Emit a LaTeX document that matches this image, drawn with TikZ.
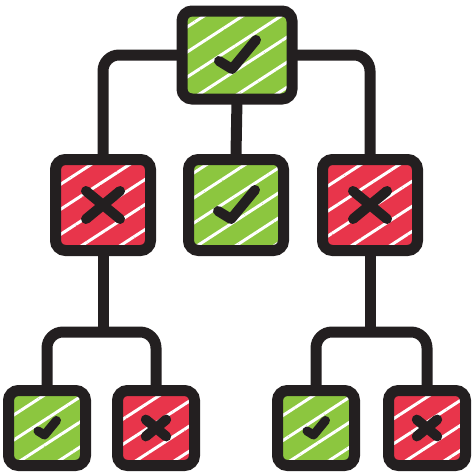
\documentclass[tikz,border=0pt]{standalone}
\usetikzlibrary{patterns.meta,backgrounds}
\definecolor{vert}{HTML}{8CC63F}
\definecolor{rouge}{HTML}{E8354B}
\definecolor{encre}{HTML}{231F20}
\begin{document}
\begin{tikzpicture}[x=1pt,y=-1pt,
  boite/.style={draw=encre, line width=11pt, rounded corners=10pt, inner sep=0pt,
    pattern={Lines[angle=33,distance=21pt,line width=3pt]}, pattern color=white},
  oui/.style={boite, preaction={fill=vert}},
  non/.style={boite, preaction={fill=rouge}},
  grande/.style={minimum width=95pt, minimum height=91pt},
  petite/.style={minimum width=77pt, minimum height=75pt},
  lien/.style={draw=encre, line width=11pt, rounded corners=16pt},
  signe/.style={draw=encre, line width=10pt, line cap=round, line join=round},
  coche/.pic={\draw[signe] (-18,6) -- (-5,14) -- (19,-15);},
  croix/.pic={\draw[signe] (-17,-14) -- (17,14) (17,-14) -- (-17,14);}]
\useasboundingbox (0,0) rectangle (474,474);
% boites
\node[oui, minimum width=110pt, minimum height=88pt] (racine) at (237,55) {};
\node[non, grande] (gauche) at (103,205) {};
\node[oui, grande] (milieu) at (236,205) {};
\node[non, grande] (droite) at (370,205) {};
\node[oui, petite] (fg1) at (47,428) {};
\node[non, petite] (fg2) at (156,428) {};
\node[oui, petite] (fd1) at (316,428) {};
\node[non, petite] (fd2) at (427,428) {};
% liens, sous les boites
\coordinate (fg) at (103,332); % fourche gauche
\coordinate (fd) at (370,332); % fourche droite
\begin{scope}[on background layer]
\draw[lien] (racine.west) -| (gauche.north);
\draw[lien] (racine.east) -| (droite.north);
\draw[lien] (racine.south) -- (milieu.north);
\draw[lien] (gauche.south) -- (fg);
\draw[lien] (fg1.north) |- (fg) -| (fg2.north);
\draw[lien] (droite.south) -- (fd);
\draw[lien] (fd1.north) |- (fd) -| (fd2.north);
\end{scope}
% signes
\pic at (racine) {coche};
\pic at (milieu) {coche};
\pic at (gauche) {croix};
\pic at (droite) {croix};
\pic[scale=.5, signe/.append style={line width=9pt}] at (fg1) {coche};
\pic[scale=.5, signe/.append style={line width=9pt}] at (fd1) {coche};
\pic[scale=.6, signe/.append style={line width=10pt}] at (fg2) {croix};
\pic[scale=.6, signe/.append style={line width=10pt}] at (fd2) {croix};
\end{tikzpicture}
\end{document}
